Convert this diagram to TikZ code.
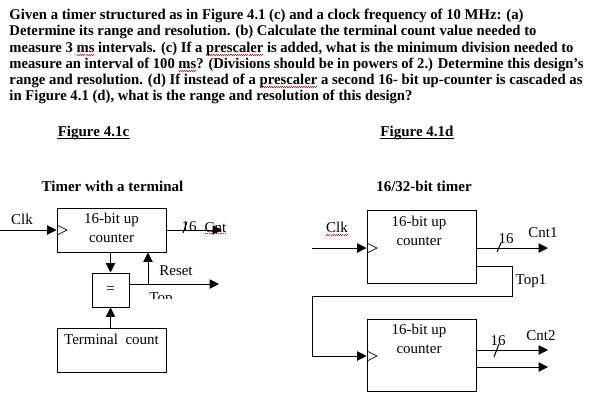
\documentclass[tikz,border=0pt]{standalone}
\usepackage{fontspec}
\setmainfont{Liberation Serif}
\usepackage{graphicx}
\usetikzlibrary{arrows.meta}
\newlength\pxu
\setlength\pxu{0.75pt}
\newsavebox\sqbox
\newcommand\redsq[1]{{\leavevmode\sbox\sqbox{#1}\rlap{\textcolor{red}{\xleaders\hbox to 1.6pt{\rule[-2.4pt]{0.8pt}{0.4pt}\rule[-1.9pt]{0.8pt}{0.4pt}}\hskip\wd\sqbox}}\usebox\sqbox}}
\newcommand\reddots[1]{{\leavevmode\sbox\sqbox{#1}\rlap{\textcolor{red}{\xleaders\hbox to 1.3pt{\hss\rule[-1.6pt]{0.5pt}{0.5pt}\hss}\hskip\wd\sqbox}}\usebox\sqbox}}
\begin{document}
\begin{tikzpicture}[x=0.75pt,y=-0.75pt,line width=0.75pt,
  every node/.style={inner sep=0pt},
  font=\fontsize{11.25}{14.25}\selectfont,
  box/.style={draw, line width=0.75pt, minimum width=81.75pt},
  arr/.style={-{Triangle[length=7pt,width=7pt]}},
  txt/.style={anchor=base},
  tline/.style={anchor=base west, font=\fontsize{11.2}{13}\selectfont\bfseries},
  head/.style={anchor=base, font=\fontsize{11.25}{14}\selectfont\bfseries},
  clockmark/.style={line width=0.5pt}]
\fill[white] (0,0) rectangle (593,401);
\useasboundingbox (0,0) rectangle (593,401);

% question text
\node[tline] (q1) at (9,19) {\resizebox{514\pxu}{\height}{Given a timer structured as in Figure 4.1 (c) and a clock frequency of 10 MHz: (a)}};
\node[tline] (q2) at (9,35) {\resizebox{527\pxu}{\height}{Determine its range and resolution. (b) Calculate the terminal count value needed to}};
\node[tline] (q3) at (9,52) {\resizebox{564\pxu}{\height}{measure 3 \redsq{ms} intervals. (c) If a \redsq{prescaler} is added, what is the minimum division needed to}};
\node[tline] (q4) at (9,68) {\resizebox{574\pxu}{\height}{measure an interval of 100 \redsq{ms}? (Divisions should be in powers of 2.) Determine this design’s}};
\node[tline] (q5) at (9,84) {\resizebox{573\pxu}{\height}{range and resolution. (d) If instead of a \redsq{prescaler} a second 16- bit up-counter is cascaded as}};
\node[tline] (q6) at (9,100) {\resizebox{403\pxu}{\height}{in Figure 4.1 (d), what is the range and resolution of this design?}};

% headings
\node[head] (f1) at (93.5,136) {Figure 4.1c};
\draw ([yshift=-1.9pt]f1.base west) -- ([yshift=-1.9pt]f1.base east);
\node[head] (f2) at (417,136) {Figure 4.1d};
\draw ([yshift=-1.9pt]f2.base west) -- ([yshift=-1.9pt]f2.base east);
\node[head] (h1) at (112.5,191) {Timer with a terminal};
\node[head] (h2) at (424,191) {16/32-bit timer};

% ---- left diagram ----
\node[box, minimum height=33pt] (c1) at (111.5,230) {};
\node[txt] (c1a) at (111.5,223) {16-bit up};
\node[txt] (c1b) at (111.5,242) {counter};
\node[box, minimum width=27.75pt, minimum height=25.5pt] (eq) at (110.5,290) {=};
\node[box, minimum height=33pt] (tc) at (111.5,350) {};
\node[txt] (tct) at (111.5,344) {Terminal\ \ count};

\draw[clockmark] (57,225) -- (67,230) -- (57,235);
\coordinate (clkL) at (0,230);
\draw[arr] (clkL) -- (c1.west);
\node[txt] (clkLt) at (22,224) {Clk};
\coordinate (cntL) at (222,230);
\draw[arr] (c1.east) -- (cntL);
\draw (183,233) -- (187,222);
\node[txt] (sixL) at (189,231) {16};
\node[txt] (cntLt) at (215.5,232) {\reddots{Cnt}};
\draw[arr] (eq.north |- c1.south) -- (eq.north);
\draw[arr] (eq.south |- tc.north) -- (eq.south);
\coordinate (topL) at (219,284);
\draw[arr] (eq.east |- topL) -- (topL);
\coordinate (rsL) at (148,284);
\draw[arr] (rsL) -- (rsL |- c1.south);
\node[txt] (rst) at (176,275) {Reset};
\begin{scope}
\clip (130,286) rectangle (200,298);
\node[txt] (topt) at (161,302) {Top};
\end{scope}

% ---- right diagram ----
\node[box, minimum height=54.75pt] (b1) at (421.5,246.5) {};
\node[txt] (b1a) at (419,226) {16-bit up};
\node[txt] (b1b) at (419,245) {counter};
\node[box, minimum height=54pt] (b2) at (421.5,355) {};
\node[txt] (b2a) at (419,334) {16-bit up};
\node[txt] (b2b) at (419,353) {counter};

\coordinate (clkR) at (312,248);
\draw[arr] (clkR) -- (clkR -| b1.west);
\draw[clockmark] (367,243) -- (377,248) -- (367,253);
\node[txt] (clkRt) at (337,232) {\redsq{Clk}};
\coordinate (cnt1) at (548,248);
\draw[arr] (cnt1 -| b1.east) -- (cnt1);
\draw (497,252) -- (501,243);
\node[txt] (s1) at (506,243) {16};
\node[txt] (cnt1t) at (543,237) {Cnt1};

\coordinate (t1a) at (512,266);
\coordinate (t1b) at (312,296);
\coordinate (t1c) at (367,356);
\draw[arr] (t1a -| b1.east) -- (t1a) -- (t1a |- t1b) -- (t1b) -- (t1b |- t1c) -- (t1c -| b2.west);
\node[txt] (top1t) at (531,284) {Top1};
\draw[clockmark] (367,351) -- (377,356) -- (367,361);

\coordinate (cnt2) at (548,350);
\draw[arr] (cnt2 -| b2.east) -- (cnt2);
\draw (494,357) -- (499,344);
\node[txt] (s2) at (498,345) {16};
\node[txt] (cnt2t) at (541,340) {Cnt2};
\coordinate (out2) at (548,367);
\draw[arr] (out2 -| b2.east) -- (out2);
\end{tikzpicture}
\end{document}
